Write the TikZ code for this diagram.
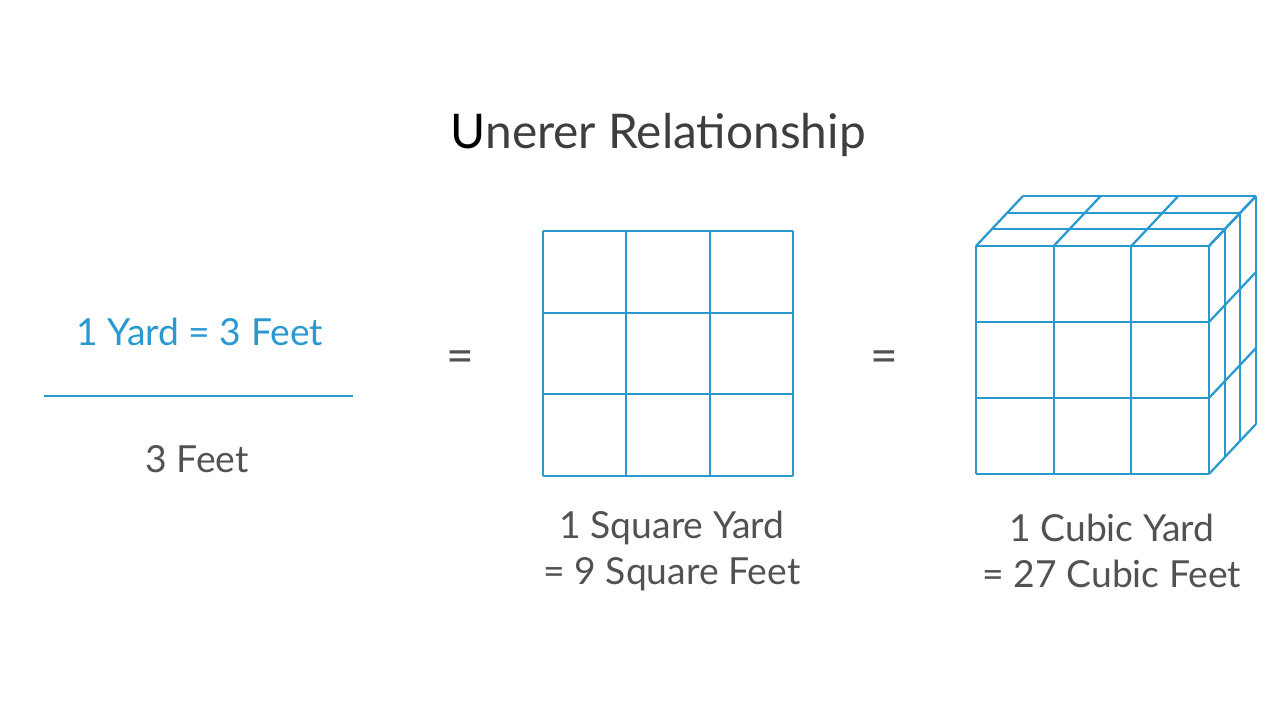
\documentclass[tikz,border=0pt]{standalone}
\usepackage{fontspec}
\setmainfont{Lato}
\usetikzlibrary{positioning}
\definecolor{gridblue}{RGB}{42,153,210}
\definecolor{textgray}{RGB}{82,82,82}
\definecolor{titlegray}{RGB}{62,62,62}

\begin{document}
\begin{tikzpicture}[x=0.025cm,y=-0.025cm,
    gridline/.style={draw=gridblue, line width=1.6pt},
    label/.style={text=textgray, font=\fontsize{26.5}{32.5}\selectfont, align=center, inner sep=0pt}]

\useasboundingbox (0,0) rectangle (1280,720);

% title
\node[text=titlegray, font=\fontsize{34}{40}\selectfont, inner sep=0pt] (title) at (658,135) {\textcolor{black}{U}nerer Relationship};

% left fraction
\node[label, text=gridblue] (yard) at (200,332) {1 Yard = 3 Feet};
\coordinate (barl) at (44,396);
\coordinate (barr) at (353,396);
\path[draw=gridblue, line width=1.5pt] (barl) -- (barr);
\node[label] (feet) at (197,459) {3 Feet};

\node[label, font=\fontsize{34}{40}\selectfont] (eqa) at (460,362) {=};
\node[label, font=\fontsize{34}{40}\selectfont] (eqb) at (884,362) {=};

% square grid
\foreach \i in {0,1,2,3} {
    \path[gridline] (543+250*\i/3,231) -- (543+250*\i/3,476);
    \path[gridline] (543,231+245*\i/3) -- (793,231+245*\i/3);
}

% cube: front face
\foreach \i in {0,1,2,3} {
    \path[gridline] (976+233*\i/3,246) -- (976+233*\i/3,474);
    \path[gridline] (976,246+228*\i/3) -- (1209,246+228*\i/3);
}
% top and right faces
\foreach \k in {1,2,3} {
    \path[gridline] (976+47*\k/3,246-50*\k/3) -- (1209+47*\k/3,246-50*\k/3);
    \path[gridline] (1209+47*\k/3,246-50*\k/3) -- (1209+47*\k/3,474-50*\k/3);
}
\foreach \i in {0,1,2,3} {
    \path[gridline] (976+233*\i/3,246) -- ++(47,-50);
    \path[gridline] (1209,246+228*\i/3) -- ++(47,-50);
}

\node[label] (sqlabel) at (672,551) {1 Square Yard\\= 9 Square Feet};
\node[label] (cublabel) at (1112,551) {1 Cubic Yard\\= 27 Cubic Feet};
\end{tikzpicture}
\end{document}
